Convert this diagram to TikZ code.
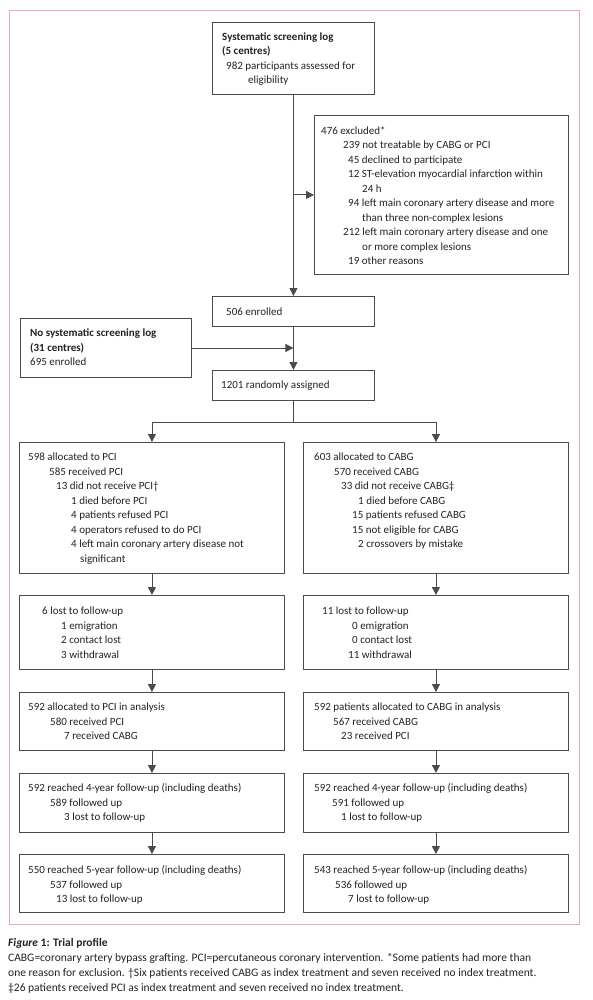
\documentclass[tikz,border=0pt]{standalone}
\usepackage{fontspec}
\setmainfont{Carlito}
\usetikzlibrary{arrows.meta}
\definecolor{framepink}{RGB}{232,168,182}
\definecolor{ink}{RGB}{35,35,35}
\definecolor{edge}{RGB}{75,75,75}
\newcommand{\lns}[1]{\begin{tabular}[t]{@{}l@{}}#1\end{tabular}}
\newcommand{\ii}[1]{\hspace*{#1pt}}
\begin{document}
\begin{tikzpicture}[x=1pt,y=-1pt,
  box/.style={draw=edge, line width=0.9pt, inner sep=0pt, anchor=north west},
  txt/.style={inner sep=0pt, anchor=base west, text=ink, font=\fontsize{11}{14.5}\selectfont},
  captxt/.style={inner sep=0pt, anchor=base west, text=ink, font=\fontsize{11.5}{15}\selectfont},
  arr/.style={draw=edge, line width=0.9pt, -{Triangle[length=8pt,width=8pt]}},
  conn/.style={draw=edge, line width=0.9pt}]
\fill[white] (0,0) rectangle (593,1000);
\useasboundingbox (0,0) rectangle (593,1000);
\draw[framepink, line width=0.9pt] (9,10) rectangle (579,924);

% boxes
\node[box, minimum width=162pt, minimum height=72pt]  (top)  at (212,22)  {};
\node[box, minimum width=254pt, minimum height=159pt] (excl) at (314,115) {};
\node[box, minimum width=162pt, minimum height=30pt]  (enr)  at (212,296) {};
\node[box, minimum width=171pt, minimum height=59pt]  (nosys) at (20,318) {};
\node[box, minimum width=162pt, minimum height=30pt]  (rand) at (212,370) {};
\node[box, minimum width=265pt, minimum height=131pt] (pci)  at (19,442)  {};
\node[box, minimum width=265pt, minimum height=131pt] (cabg) at (303,442) {};
\node[box, minimum width=265pt, minimum height=74pt]  (lostP) at (19,595) {};
\node[box, minimum width=265pt, minimum height=74pt]  (lostC) at (303,595) {};
\node[box, minimum width=265pt, minimum height=58pt]  (anaP) at (19,692) {};
\node[box, minimum width=265pt, minimum height=58pt]  (anaC) at (303,692) {};
\node[box, minimum width=265pt, minimum height=59pt]  (fyP) at (19,773) {};
\node[box, minimum width=265pt, minimum height=59pt]  (fyC) at (303,773) {};
\node[box, minimum width=265pt, minimum height=58pt]  (fvP) at (19,854) {};
\node[box, minimum width=265pt, minimum height=58pt]  (fvC) at (303,854) {};

% texts
\node[txt] (topt) at (222,40.5) {\lns{\textbf{Systematic screening log}\\
 \textbf{(5 centres)}\\
 \ii{4}982 participants assessed for\\
 \ii{26}eligibility}};
\node[txt] (exclt) at (321,134.5) {\lns{476 excluded*\\
 \ii{22}239 not treatable by CABG or PCI\\
 \ii{27}45 declined to participate\\
 \ii{27}12 ST-elevation myocardial infarction within\\
 \ii{41}24 h\\
 \ii{27}94 left main coronary artery disease and more\\
 \ii{41}than three non-complex lesions\\
 \ii{22}212 left main coronary artery disease and one\\
 \ii{41}or more complex lesions\\
 \ii{27}19 other reasons}};
\node[txt] (enrt) at (226,315.5) {506 enrolled};
\node[txt] (nosyst) at (30,336.5) {\lns{\textbf{No systematic screening log}\\
 \textbf{(31 centres)}\\
 695 enrolled}};
\node[txt] (randt) at (221,388.5) {1201 randomly assigned};
\node[txt] (pcit) at (28,460.5) {\lns{598 allocated to PCI\\
 \ii{21}585 received PCI\\
 \ii{28}13 did not receive PCI\textdagger\\
 \ii{43}1 died before PCI\\
 \ii{43}4 patients refused PCI\\
 \ii{43}4 operators refused to do PCI\\
 \ii{43}4 left main coronary artery disease not\\
 \ii{52}significant}};
\node[txt] (cabgt) at (314,460.5) {\lns{603 allocated to CABG\\
 \ii{20}570 received CABG\\
 \ii{27}33 did not receive CABG\textdaggerdbl\\
 \ii{44}1 died before CABG\\
 \ii{38}15 patients refused CABG\\
 \ii{38}15 not eligible for CABG\\
 \ii{44}2 crossovers by mistake}};
\node[txt] (lostPt) at (28,614.5) {\lns{\ii{14}6 lost to follow-up\\
 \ii{33}1 emigration\\
 \ii{33}2 contact lost\\
 \ii{33}3 withdrawal}};
\node[txt] (lostCt) at (314,614.5) {\lns{\ii{8}11 lost to follow-up\\
 \ii{38}0 emigration\\
 \ii{38}0 contact lost\\
 \ii{34}11 withdrawal}};
\node[txt] (anaPt) at (28,710.5) {\lns{592 allocated to PCI in analysis\\
 \ii{22}580 received PCI\\
 \ii{36}7 received CABG}};
\node[txt] (anaCt) at (314,710.5) {\lns{592 patients allocated to CABG in analysis\\
 \ii{19}567 received CABG\\
 \ii{27}23 received PCI}};
\node[txt] (fyPt) at (28,791.5) {\lns{592 reached 4-year follow-up (including deaths)\\
 \ii{22}589 followed up\\
 \ii{36}3 lost to follow-up}};
\node[txt] (fyCt) at (314,791.5) {\lns{592 reached 4-year follow-up (including deaths)\\
 \ii{18}591 followed up\\
 \ii{27}1 lost to follow-up}};
\node[txt] (fvPt) at (28,873.5) {\lns{550 reached 5-year follow-up (including deaths)\\
 \ii{22}537 followed up\\
 \ii{28}13 lost to follow-up}};
\node[txt] (fvCt) at (314,873.5) {\lns{543 reached 5-year follow-up (including deaths)\\
 \ii{21}536 followed up\\
 \ii{34}7 lost to follow-up}};

% caption
\node[captxt] (capt) at (8,946) {\lns{\textbf{\textit{Figure} 1: Trial profile}\\
 CABG=coronary artery bypass grafting. PCI=percutaneous coronary intervention. *Some patients had more than\\
 one reason for exclusion. \textdagger Six patients received CABG as index treatment and seven received no index treatment.\\
 \textdaggerdbl 26 patients received PCI as index treatment and seven received no index treatment.}};

% connectors
\draw[arr] (top.south) -- (enr.north);
\draw[arr] (top.south |- excl.west) -- (excl.west);
\coordinate (join) at (enr.south |- nosys.east);
\draw[arr] (nosys.east) -- (join);
\draw[arr] (enr.south) -- (rand.north);
\coordinate (split) at (rand.south |- 0,422);
\draw[arr] (rand.south) -- (split) -| (pci.north);
\draw[arr] (split) -| (cabg.north);
\draw[arr] (pci.south) -- (lostP.north);
\draw[arr] (cabg.south) -- (lostC.north);
\draw[arr] (lostP.south) -- (anaP.north);
\draw[arr] (lostC.south) -- (anaC.north);
\draw[arr] (anaP.south) -- (fyP.north);
\draw[arr] (anaC.south) -- (fyC.north);
\draw[arr] (fyP.south) -- (fvP.north);
\draw[arr] (fyC.south) -- (fvC.north);
\end{tikzpicture}
\end{document}
